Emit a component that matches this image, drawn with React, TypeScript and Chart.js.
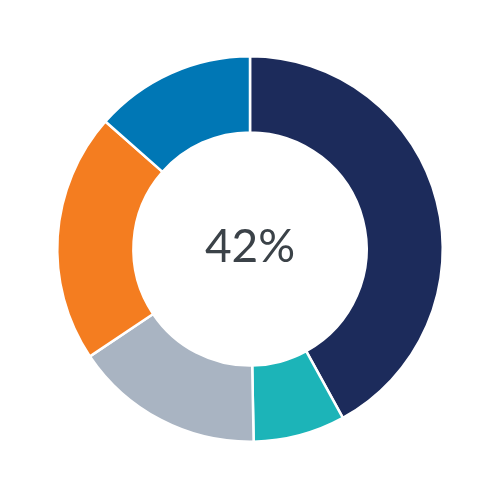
import { useEffect, useRef } from "react"
import { Chart, registerables } from "chart.js"

Chart.register(...registerables)

const labels = ["Segment A", "Segment B", "Segment C", "Segment D", "Segment E"]
const values = [42, 7.7, 15.9, 20.9, 13.5]
const colors = ["#1c2b5b", "#1cb4b8", "#a9b4c2", "#f47d20", "#0077b5"]
const centerLabel = "42%"

export default function App() {
  const canvasRef = useRef<HTMLCanvasElement>(null)
  const chartRef = useRef<Chart | null>(null)

  useEffect(() => {
    if (!canvasRef.current) return
    if (chartRef.current) chartRef.current.destroy()

    chartRef.current = new Chart(canvasRef.current, {
      type: "doughnut",
      data: {
        labels,
        datasets: [
          {
            data: values,
            backgroundColor: colors,
            borderColor: "#ffffff",
            borderWidth: 2.5,
          },
        ],
      },
      options: {
        responsive: true,
        maintainAspectRatio: false,
        animation: false,
        cutout: "60.5%",
        layout: { padding: { top: 55, bottom: 57, left: 56, right: 56 } },
        plugins: {
          legend: { display: false },
          tooltip: { enabled: false },
        },
      },
    })

    return () => {
      if (chartRef.current) {
        chartRef.current.destroy()
        chartRef.current = null
      }
    }
  }, [])

  return (
    <div style={{ position: "absolute", left: 0, top: 0, width: 500, height: 500, background: "#fff" }}>
      <canvas ref={canvasRef} />
      <div
        style={{
          position: "absolute",
          left: 0,
          top: -6,
          width: 500,
          height: 500,
          display: "flex",
          alignItems: "center",
          justifyContent: "center",
          fontFamily: "Lato, 'Open Sans', sans-serif",
          fontSize: 46,
          color: "#3b4248",
          pointerEvents: "none",
        }}
      >
        {centerLabel}
      </div>
    </div>
  )
}
